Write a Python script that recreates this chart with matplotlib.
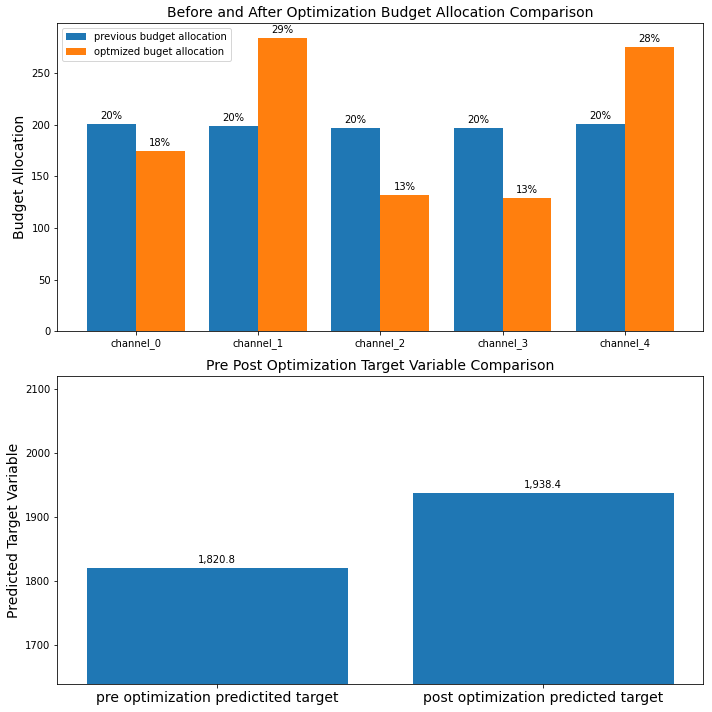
import matplotlib
matplotlib.use("Agg")
import matplotlib.pyplot as plt
import numpy as np

channels = ["channel_0", "channel_1", "channel_2", "channel_3", "channel_4"]
previous_budget = [200.9, 198.9, 197.0, 197.0, 200.9]
optimized_budget = [174.7, 284.3, 132.1, 129.2, 275.5]

target_labels = ["pre optimization predictited target", "post optimization predicted target"]
target_values = [1820.8, 1938.4]
target_ylim = (1639.0, 2121.0)

fig = plt.figure(figsize=(712 / 72, 712 / 72), dpi=72)
ax1 = fig.add_axes([0.0805, 0.535, 0.907, 0.4325])
ax2 = fig.add_axes([0.0805, 0.0393, 0.907, 0.4326])

x = np.arange(len(channels))
w = 0.4
b1 = ax1.bar(x - w / 2, previous_budget, w, label="previous budget allocation", color="#1f77b4")
b2 = ax1.bar(x + w / 2, optimized_budget, w, label="optmized buget allocation", color="#ff7f0e")

for bars, vals in ((b1, previous_budget), (b2, optimized_budget)):
    tot = sum(vals)
    for rect, v in zip(bars, vals):
        ax1.annotate(f"{v / tot:.0%}", xy=(rect.get_x() + rect.get_width() / 2, rect.get_height()),
                     xytext=(0, 3), textcoords="offset points", ha="center", va="bottom", fontsize=10)

ax1.set_xticks(x)
ax1.set_xticklabels(channels, fontsize=10)
ax1.tick_params(axis="y", labelsize=10)
ax1.set_ylabel("Budget Allocation", fontsize=14)
ax1.set_title("Before and After Optimization Budget Allocation Comparison", fontsize=14)
ax1.legend(loc="upper left", fontsize=10)

x2 = np.arange(len(target_labels))
b3 = ax2.bar(x2, target_values, 0.8, color="#1f77b4")
for rect, v in zip(b3, target_values):
    ax2.annotate(f"{v:,.1f}", xy=(rect.get_x() + rect.get_width() / 2, rect.get_height()),
                 xytext=(0, 3), textcoords="offset points", ha="center", va="bottom", fontsize=10)
ax2.set_ylim(*target_ylim)
ax2.set_xticks(x2)
ax2.set_xticklabels(target_labels, fontsize=14)
ax2.tick_params(axis="y", labelsize=10)
ax2.set_ylabel("Predicted Target Variable", fontsize=14)
ax2.set_title("Pre Post Optimization Target Variable Comparison", fontsize=14)

fig.savefig("out.png", dpi=72)
